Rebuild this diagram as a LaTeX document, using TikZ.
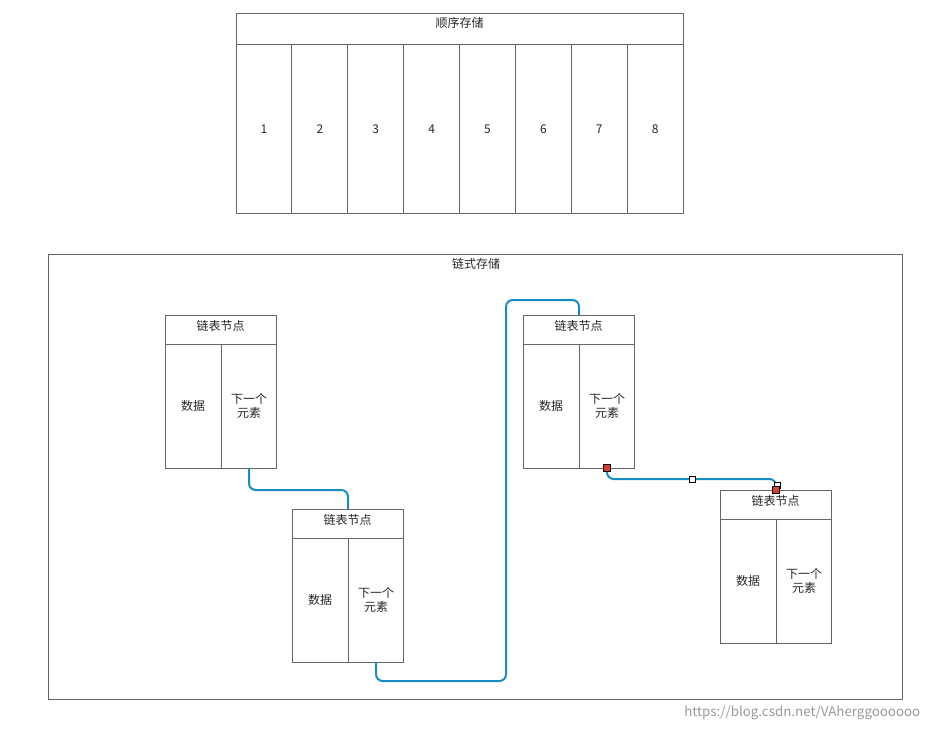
\documentclass[tikz,border=0pt]{standalone}
\usepackage{fontspec}
\setmainfont{Noto Sans CJK SC}
\begin{document}
\begin{tikzpicture}[x=0.75pt,y=-0.75pt,
  box/.style={draw=black!60,line width=0.6pt},
  lbl/.style={font=\fontsize{9}{11}\selectfont,text=black!85,align=center},
  link/.style={draw={rgb,255:red,24;green,140;blue,196},line width=1.5pt,rounded corners=5pt},
  redm/.style={draw=black,fill={rgb,255:red,220;green,60;blue,50},line width=0.5pt,minimum size=5pt,inner sep=0pt},
  whm/.style={draw=black,fill=white,line width=0.5pt,minimum size=4.5pt,inner sep=0pt}]
\useasboundingbox (0,0) rectangle (933,732);
% sequential storage
\draw[box] (236,13) rectangle (683,213);
\draw[box] (236,44) -- (683,44);
\node[lbl] (seqt) at (459.5,23) {顺序存储};
\foreach \i in {1,...,8}{
  \pgfmathsetmacro\xl{236+55.875*(\i-1)}
  \draw[box] (\xl,44) rectangle ({\xl+55.875},213);
  \node[lbl] (c\i) at ({\xl+28},129) {\i};
}
% chain storage
\draw[box] (48,254) rectangle (902,699);
\node[lbl] (cht) at (476,264) {链式存储};
\newcommand{\llnode}[3]{%
  \draw[box] (#2,#3) rectangle ({#2+111},{#3+153});
  \draw[box] (#2,{#3+29}) -- ({#2+111},{#3+29});
  \draw[box] ({#2+56},{#3+29}) -- ({#2+56},{#3+153});
  \node[lbl] (#1h) at ({#2+55.5},{#3+11}) {链表节点};
  \node[lbl] (#1d) at ({#2+28},{#3+91}) {数据};
  \node[lbl] (#1n) at ({#2+84},{#3+91}) {下一个\\元素};
  \coordinate (#1top) at ({#2+56},#3);
  \coordinate (#1bot) at ({#2+84},{#3+153});
}
\llnode{a}{165}{315}
\llnode{b}{292}{509}
\llnode{c}{523}{315}
\llnode{d}{720}{490}
\draw[link] (abot) -- (249,490) -- (348,490) -- (btop);
\draw[link] (bbot) -- (376,681) -- (506,681) -- (506,300) -- (579,300) -- (ctop);
\draw[link] (cbot) -- (607,479) -- (776,479) -- (dtop);
\node[redm] (m1) at (cbot) {};
\node[whm] (m2) at (692,479) {};
\node[whm] (m3) at (777,485) {};
\node[redm] (m4) at (dtop) {};
\node[font=\fontsize{10}{12}\selectfont,text=black!40,anchor=east] (wm) at (925,713) {https://blog.csdn.net/VAherggoooooo};
\end{tikzpicture}
\end{document}
